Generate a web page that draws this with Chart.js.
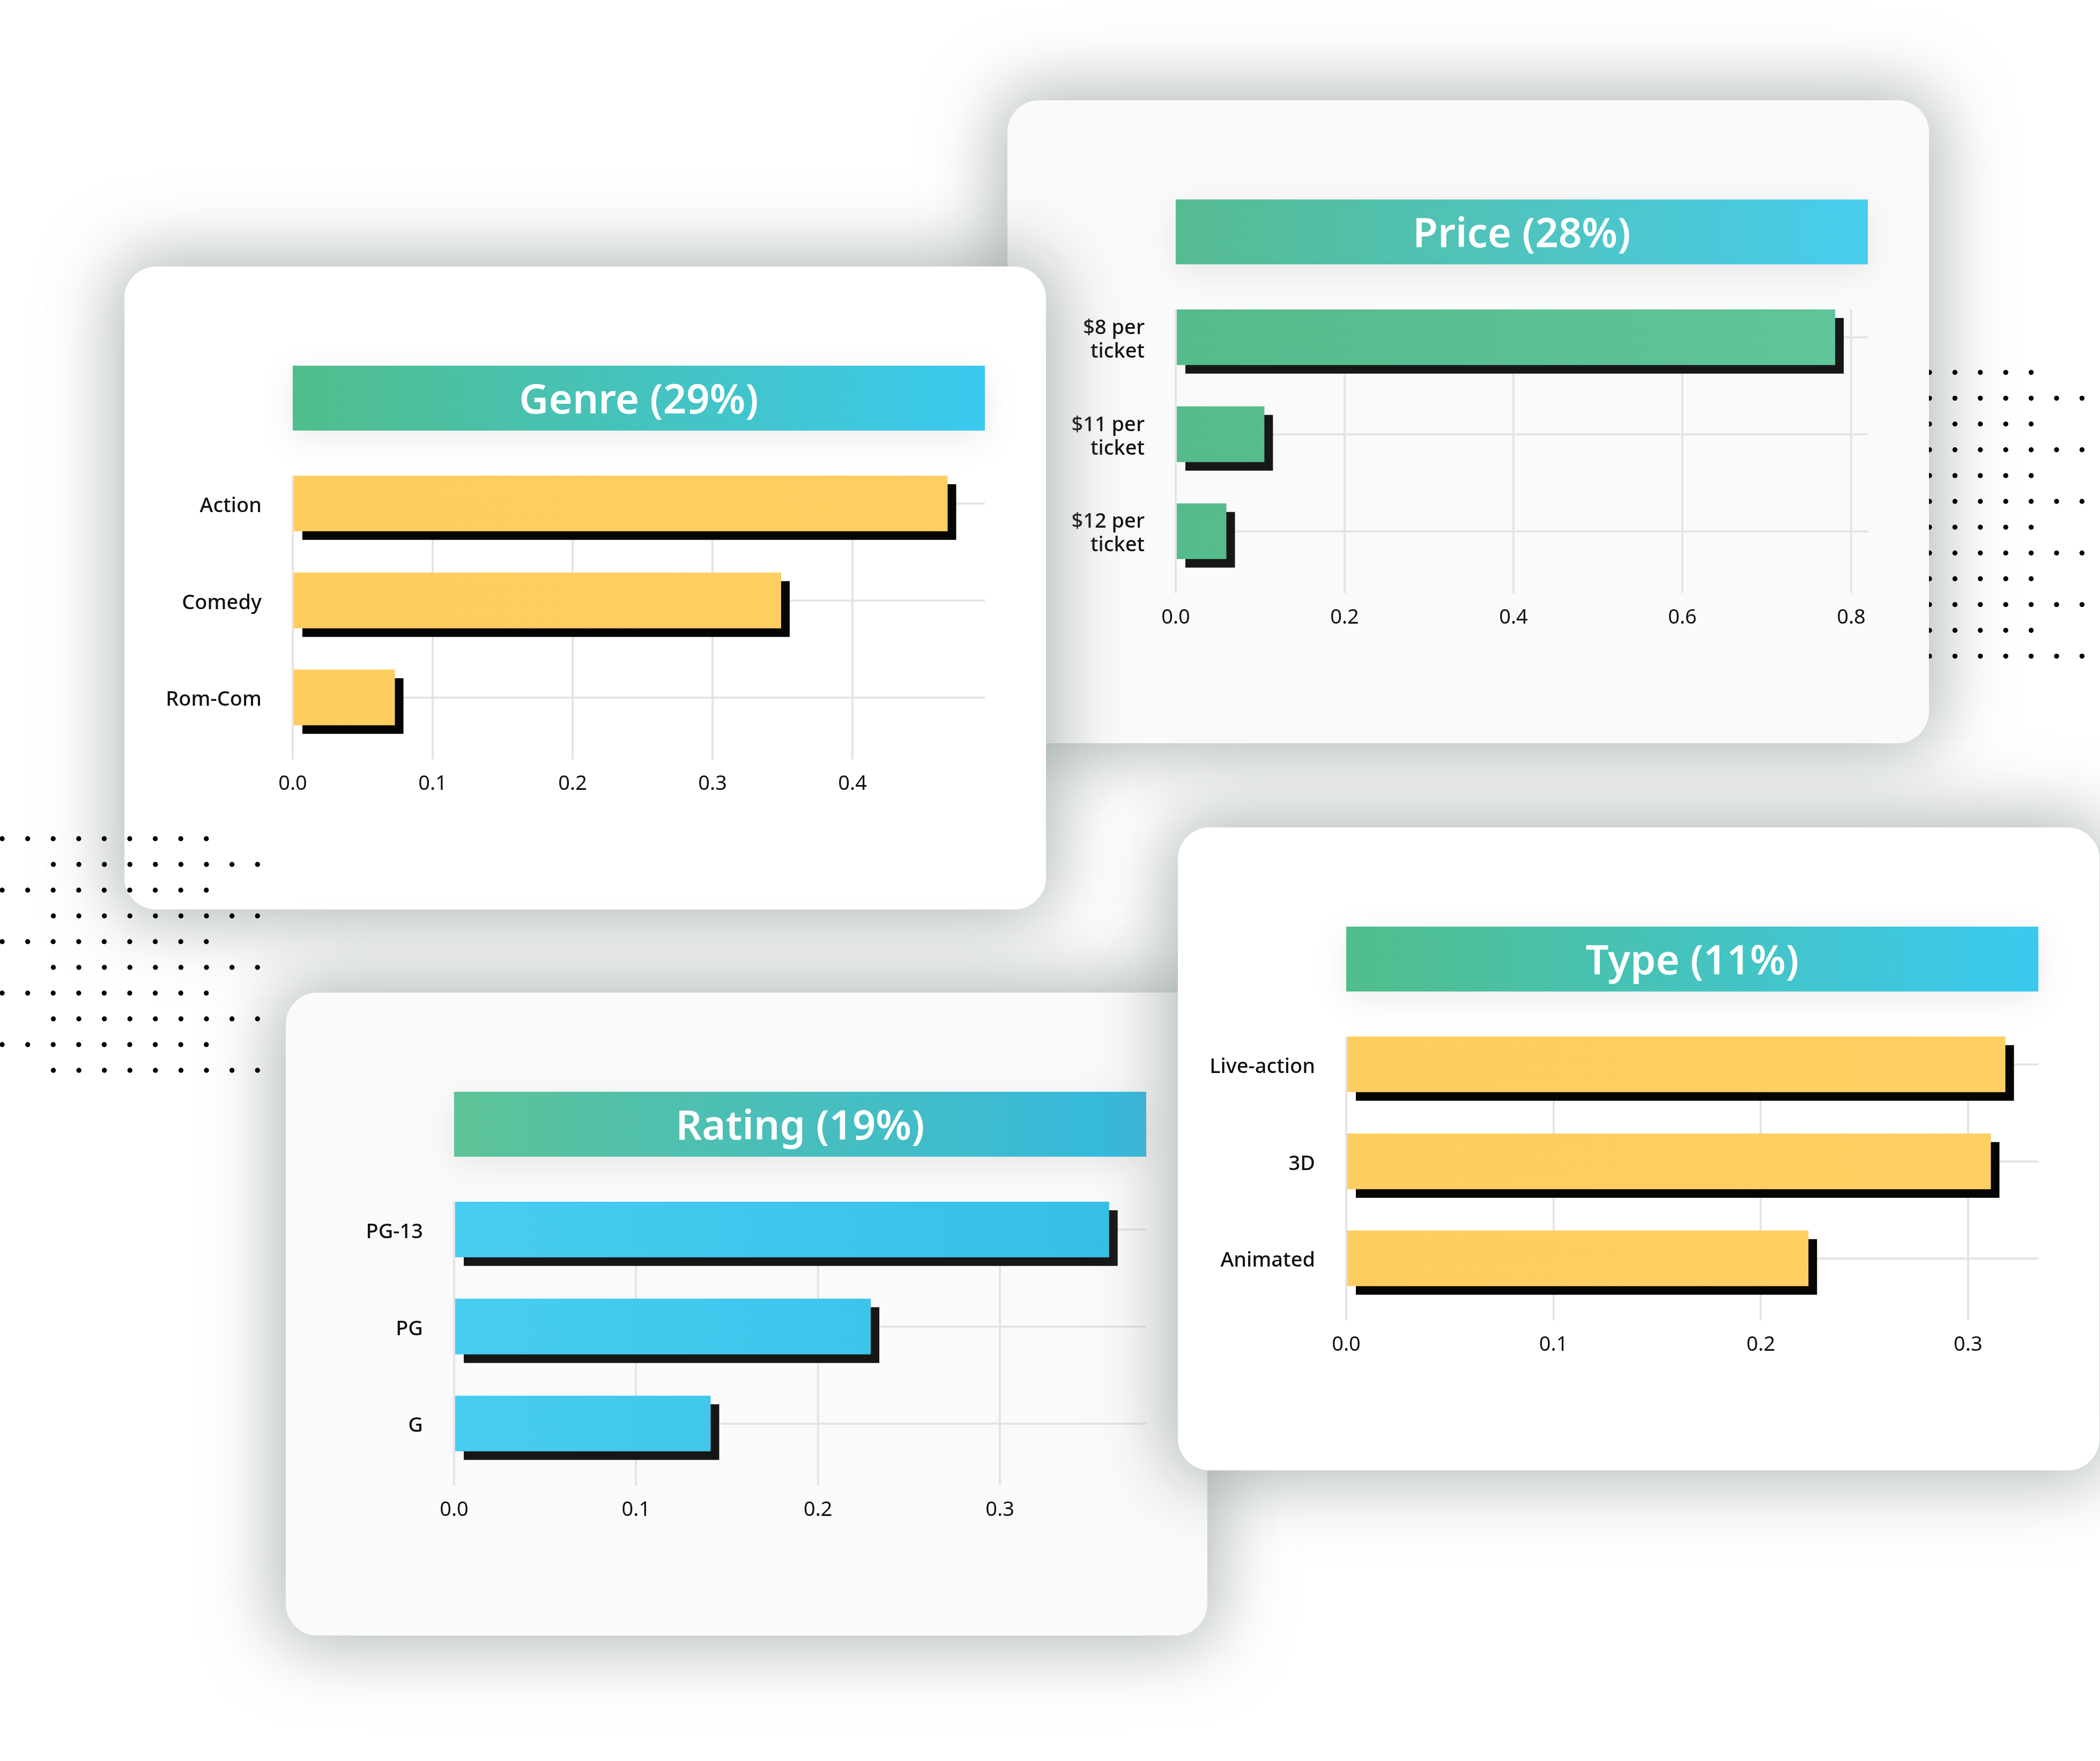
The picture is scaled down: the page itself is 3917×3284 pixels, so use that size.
<!DOCTYPE html>
<html>
<head>
<meta charset="utf-8">
<title>Movie attributes</title>
<script src="https://cdn.jsdelivr.net/npm/chart.js@4.4.1/dist/chart.umd.min.js"></script>
<style>
  html, body { margin: 0; padding: 0; background: #fff; }
  body { width: 3917px; height: 3284px; position: relative; overflow: hidden; }
  .shadow, .card { position: absolute; width: 1719px; height: 1199px; border-radius: 60px; }
  .shadow { box-shadow: 0 0 130px 20px rgba(135, 147, 145, 0.65); }
  .card { overflow: hidden; }
  .card canvas { display: block; }
  .dots { position: absolute; }
</style>
</head>
<body>
<div class="shadow" style="left:1879px;top:187px"></div>
<canvas id="dots-right" class="dots" width="537" height="580" style="left:3380px;top:670px"></canvas>
<div class="card" style="left:1879px;top:187px;background:#fafafa"><canvas id="price-chart" width="1719" height="1199"></canvas></div>

<div class="shadow" style="left:232px;top:497px"></div>
<div class="card" style="left:232px;top:497px;background:#fff"><canvas id="genre-chart" width="1719" height="1199"></canvas></div>

<div class="shadow" style="left:533px;top:1851px"></div>
<div class="card" style="left:533px;top:1851px;background:#fafafa"><canvas id="rating-chart" width="1719" height="1199"></canvas></div>

<div class="shadow" style="left:2197px;top:1543px"></div>
<div class="card" style="left:2197px;top:1543px;background:#fff"><canvas id="type-chart" width="1719" height="1199"></canvas></div>

<canvas id="dots-left" class="dots" width="520" height="480" style="left:0px;top:1540px"></canvas>

<script>
// values (share of importance per level)
const genreTitle = "Genre (29%)";
const genreLabels = ["Action", "Comedy", "Rom-Com"];
const genreValues = [0.468, 0.349, 0.073];
const genreTicks = [0, 0.1, 0.2, 0.3, 0.4];
const genreMax = 0.4946;

const priceTitle = "Price (28%)";
const priceLabels = [["$8 per", "ticket"], ["$11 per", "ticket"], ["$12 per", "ticket"]];
const priceValues = [0.781, 0.105, 0.060];
const priceTicks = [0, 0.2, 0.4, 0.6, 0.8];
const priceMax = 0.8197;

const ratingTitle = "Rating (19%)";
const ratingLabels = ["PG-13", "PG", "G"];
const ratingValues = [0.360, 0.229, 0.141];
const ratingTicks = [0, 0.1, 0.2, 0.3];
const ratingMax = 0.3804;

const typeTitle = "Type (11%)";
const typeLabels = ["Live-action", "3D", "Animated"];
const typeValues = [0.318, 0.311, 0.223];
const typeTicks = [0, 0.1, 0.2, 0.3];
const typeMax = 0.3339;

const FONT = "'Noto Sans', 'Open Sans', sans-serif";
const GRID = "#e4e4e4";
const BANNER_H = 121;
const TITLE_SHIFT = 7;
const TITLE_GAP = 84;

// gradient strip behind the title, as wide as the plot area
const bannerPlugin = {
  id: "banner",
  beforeDraw(chart, args, opts) {
    const { ctx, chartArea } = chart;
    const top = chart.titleBlock.top;
    const g = ctx.createLinearGradient(chartArea.left, 0, chartArea.right, 0);
    g.addColorStop(0, opts.from);
    g.addColorStop(1, opts.to);
    ctx.save();
    ctx.shadowColor = "rgba(0,0,0,0.08)";
    ctx.shadowBlur = 60;
    ctx.shadowOffsetY = 14;
    ctx.fillStyle = g;
    ctx.fillRect(chartArea.left, top, chartArea.right - chartArea.left, BANNER_H);
    ctx.restore();
  },
};

// hard offset shadow under every bar
const barShadowPlugin = {
  id: "barShadow",
  beforeDatasetsDraw(chart, args, opts) {
    const ctx = chart.ctx;
    ctx.save();
    ctx.shadowColor = opts.color;
    ctx.shadowBlur = 0;
    ctx.shadowOffsetX = 16;
    ctx.shadowOffsetY = 16;
  },
  afterDatasetsDraw(chart) {
    chart.ctx.restore();
  },
};

function barFill(chart, colors) {
  const area = chart.chartArea;
  if (!area) return colors[0];
  const g = chart.ctx.createLinearGradient(area.left, 0, area.right, 0);
  g.addColorStop(0, colors[0]);
  g.addColorStop(1, colors[1]);
  return g;
}

function makeChart(id, o) {
  return new Chart(document.getElementById(id), {
    type: "bar",
    data: {
      datasets: [{
        data: o.values.map((v, i) => ({ x: v, y: i })),
        backgroundColor: c => barFill(c.chart, o.bar),
        borderWidth: 0,
        barPercentage: 1,
        categoryPercentage: 0.574,
        clip: false,
      }],
    },
    options: {
      indexAxis: "y",
      responsive: false,
      animation: false,
      events: [],
      layout: { padding: { top: 185, right: 114, left: 0, bottom: 0 } },
      plugins: {
        legend: { display: false },
        tooltip: { enabled: false },
        title: {
          display: true,
          text: o.title,
          fullSize: false,
          color: "#ffffff",
          font: { family: FONT, size: 76, weight: "600", lineHeight: BANNER_H / 76 },
          padding: { top: TITLE_SHIFT, bottom: TITLE_GAP - TITLE_SHIFT },
        },
        banner: { from: o.banner[0], to: o.banner[1] },
        barShadow: { color: o.shadow },
      },
      scales: {
        x: {
          type: "linear",
          min: 0,
          max: o.max,
          offset: false,
          afterBuildTicks: s => { s.ticks = o.ticks.map(v => ({ value: v })); },
          afterFit: s => { s.height = 305; },
          ticks: {
            callback: v => Number(v).toFixed(1),
            color: "#111",
            padding: 23,
            font: { family: FONT, size: 38, weight: "400" },
          },
          grid: { color: GRID, lineWidth: 4, tickLength: 25, drawTicks: true, offset: false },
          border: { display: false },
        },
        y: {
          type: "linear",
          reverse: true,
          min: -0.287,
          max: 2.5,
          offset: false,
          afterBuildTicks: s => { s.ticks = o.labels.map((_, i) => ({ value: i })); },
          afterFit: s => { s.width = 314; },
          ticks: {
            callback: v => o.labels[v],
            color: "#111",
            padding: 58,
            labelOffset: 5,
            font: { family: FONT, size: 38, weight: "500", lineHeight: 1.16 },
          },
          grid: { color: GRID, lineWidth: 4, drawTicks: false, offset: false },
          border: { display: false },
        },
      },
    },
    plugins: [bannerPlugin, barShadowPlugin],
  });
}

makeChart("price-chart", {
  title: priceTitle, labels: priceLabels, values: priceValues, ticks: priceTicks, max: priceMax,
  bar: ["#55bb8c", "#60c59b"], banner: ["#56bb91", "#48cdee"], shadow: "#171717",
});
makeChart("genre-chart", {
  title: genreTitle, labels: genreLabels, values: genreValues, ticks: genreTicks, max: genreMax,
  bar: ["#fecd5f", "#fecf62"], banner: ["#50bd8b", "#3ac9f0"], shadow: "#050505",
});
makeChart("rating-chart", {
  title: ratingTitle, labels: ratingLabels, values: ratingValues, ticks: ratingTicks, max: ratingMax,
  bar: ["#48cdf1", "#36bee6"], banner: ["#5dc397", "#33b9e1"], shadow: "#161616",
});
makeChart("type-chart", {
  title: typeTitle, labels: typeLabels, values: typeValues, ticks: typeTicks, max: typeMax,
  bar: ["#fecd5f", "#fecf62"], banner: ["#50bd8b", "#3ac9f0"], shadow: "#050505",
});

// decorative dot grids
function dots(id, ox, oy, pts) {
  const ctx = document.getElementById(id).getContext("2d");
  ctx.fillStyle = "#000";
  pts.forEach(([x, y]) => {
    ctx.beginPath();
    ctx.arc(x - ox, y - oy, 4.7, 0, Math.PI * 2);
    ctx.fill();
  });
}

const leftPts = [];
for (let k = 0; k < 10; k++) {
  const x0 = k % 2 === 0 ? 4 : 99.5;
  for (let i = 0; i < 9; i++) leftPts.push([x0 + 47.6 * i, 1564 + 48 * k]);
}
dots("dots-left", 0, 1540, leftPts);

const rightPts = [];
for (let k = 0; k < 12; k++) {
  const xEnd = k % 2 === 1 ? 3883.4 : 3788.6;
  for (let j = 0; j < 10; j++) rightPts.push([xEnd - 47.4 * j, 694.5 + 48.1 * k]);
}
dots("dots-right", 3380, 670, rightPts);
</script>
</body>
</html>
